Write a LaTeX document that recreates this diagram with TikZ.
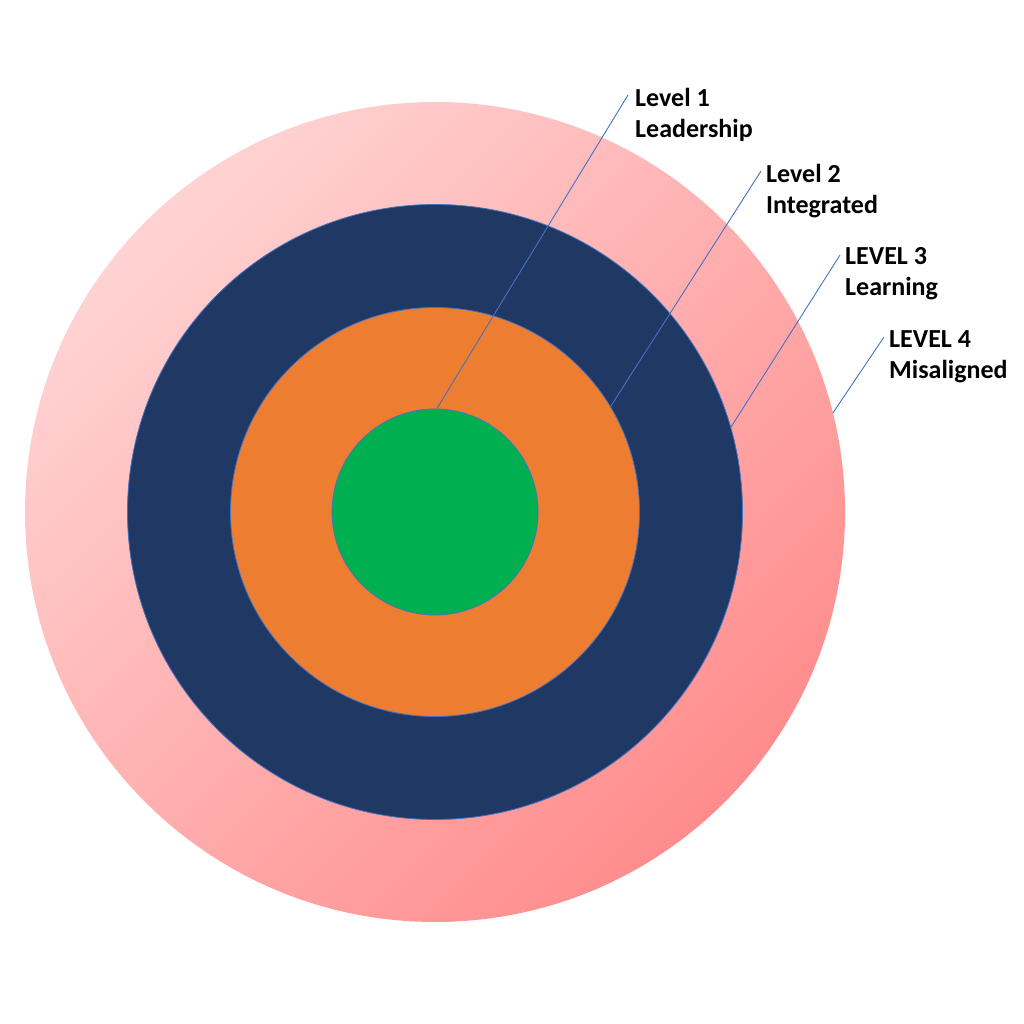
\documentclass[tikz,border=0pt]{standalone}
\usepackage{fontspec}
\setmainfont{Carlito}
\definecolor{pinkA}{HTML}{FFD3D3}
\definecolor{pinkB}{HTML}{FF8C8C}
\definecolor{navy}{HTML}{203864}
\definecolor{orng}{HTML}{ED7D31}
\definecolor{grn}{HTML}{00B050}
\definecolor{edge}{HTML}{4472C4}
\tikzset{
  ring/.style={circle, inner sep=0pt, draw=edge, line width=0.8pt},
  lab/.style={anchor=base west, align=left, inner sep=0pt, font=\fontsize{26}{31}\selectfont\bfseries, text=black},
  conn/.style={draw=edge, line width=0.9pt}
}
\begin{document}
\begin{tikzpicture}[x=1pt,y=1pt]
\useasboundingbox (0,0) rectangle (1024,1024);
\node[circle, inner sep=0pt, minimum size=820pt, top color=pinkA, bottom color=pinkB, shading angle=45] (outer) at (435,512) {};
\node[ring, fill=navy, minimum size=615pt] (navyc) at (435,512) {};
\node[ring, fill=orng, minimum size=409pt] (orangec) at (435,512) {};
\node[ring, fill=grn, minimum size=206pt] (greenc) at (435,512) {};
\node[lab] (l1) at (635,886) {Level 1\\Leadership};
\node[lab] (l2) at (766,810) {Level 2\\Integrated};
\node[lab] (l3) at (845,728) {LEVEL 3\\Learning};
\node[lab] (l4) at (889,645) {LEVEL 4\\Misaligned};
\coordinate (t1) at (628,929);
\coordinate (t2) at (761,853);
\coordinate (t3) at (840,769);
\coordinate (t4) at (884,687);
\draw[conn] (greenc.89) -- (t1);
\draw[conn] (orangec.31.5) -- (t2);
\draw[conn] (navyc.16.3) -- (t3);
\draw[conn] (outer.14.4) -- (t4);
\end{tikzpicture}
\end{document}
